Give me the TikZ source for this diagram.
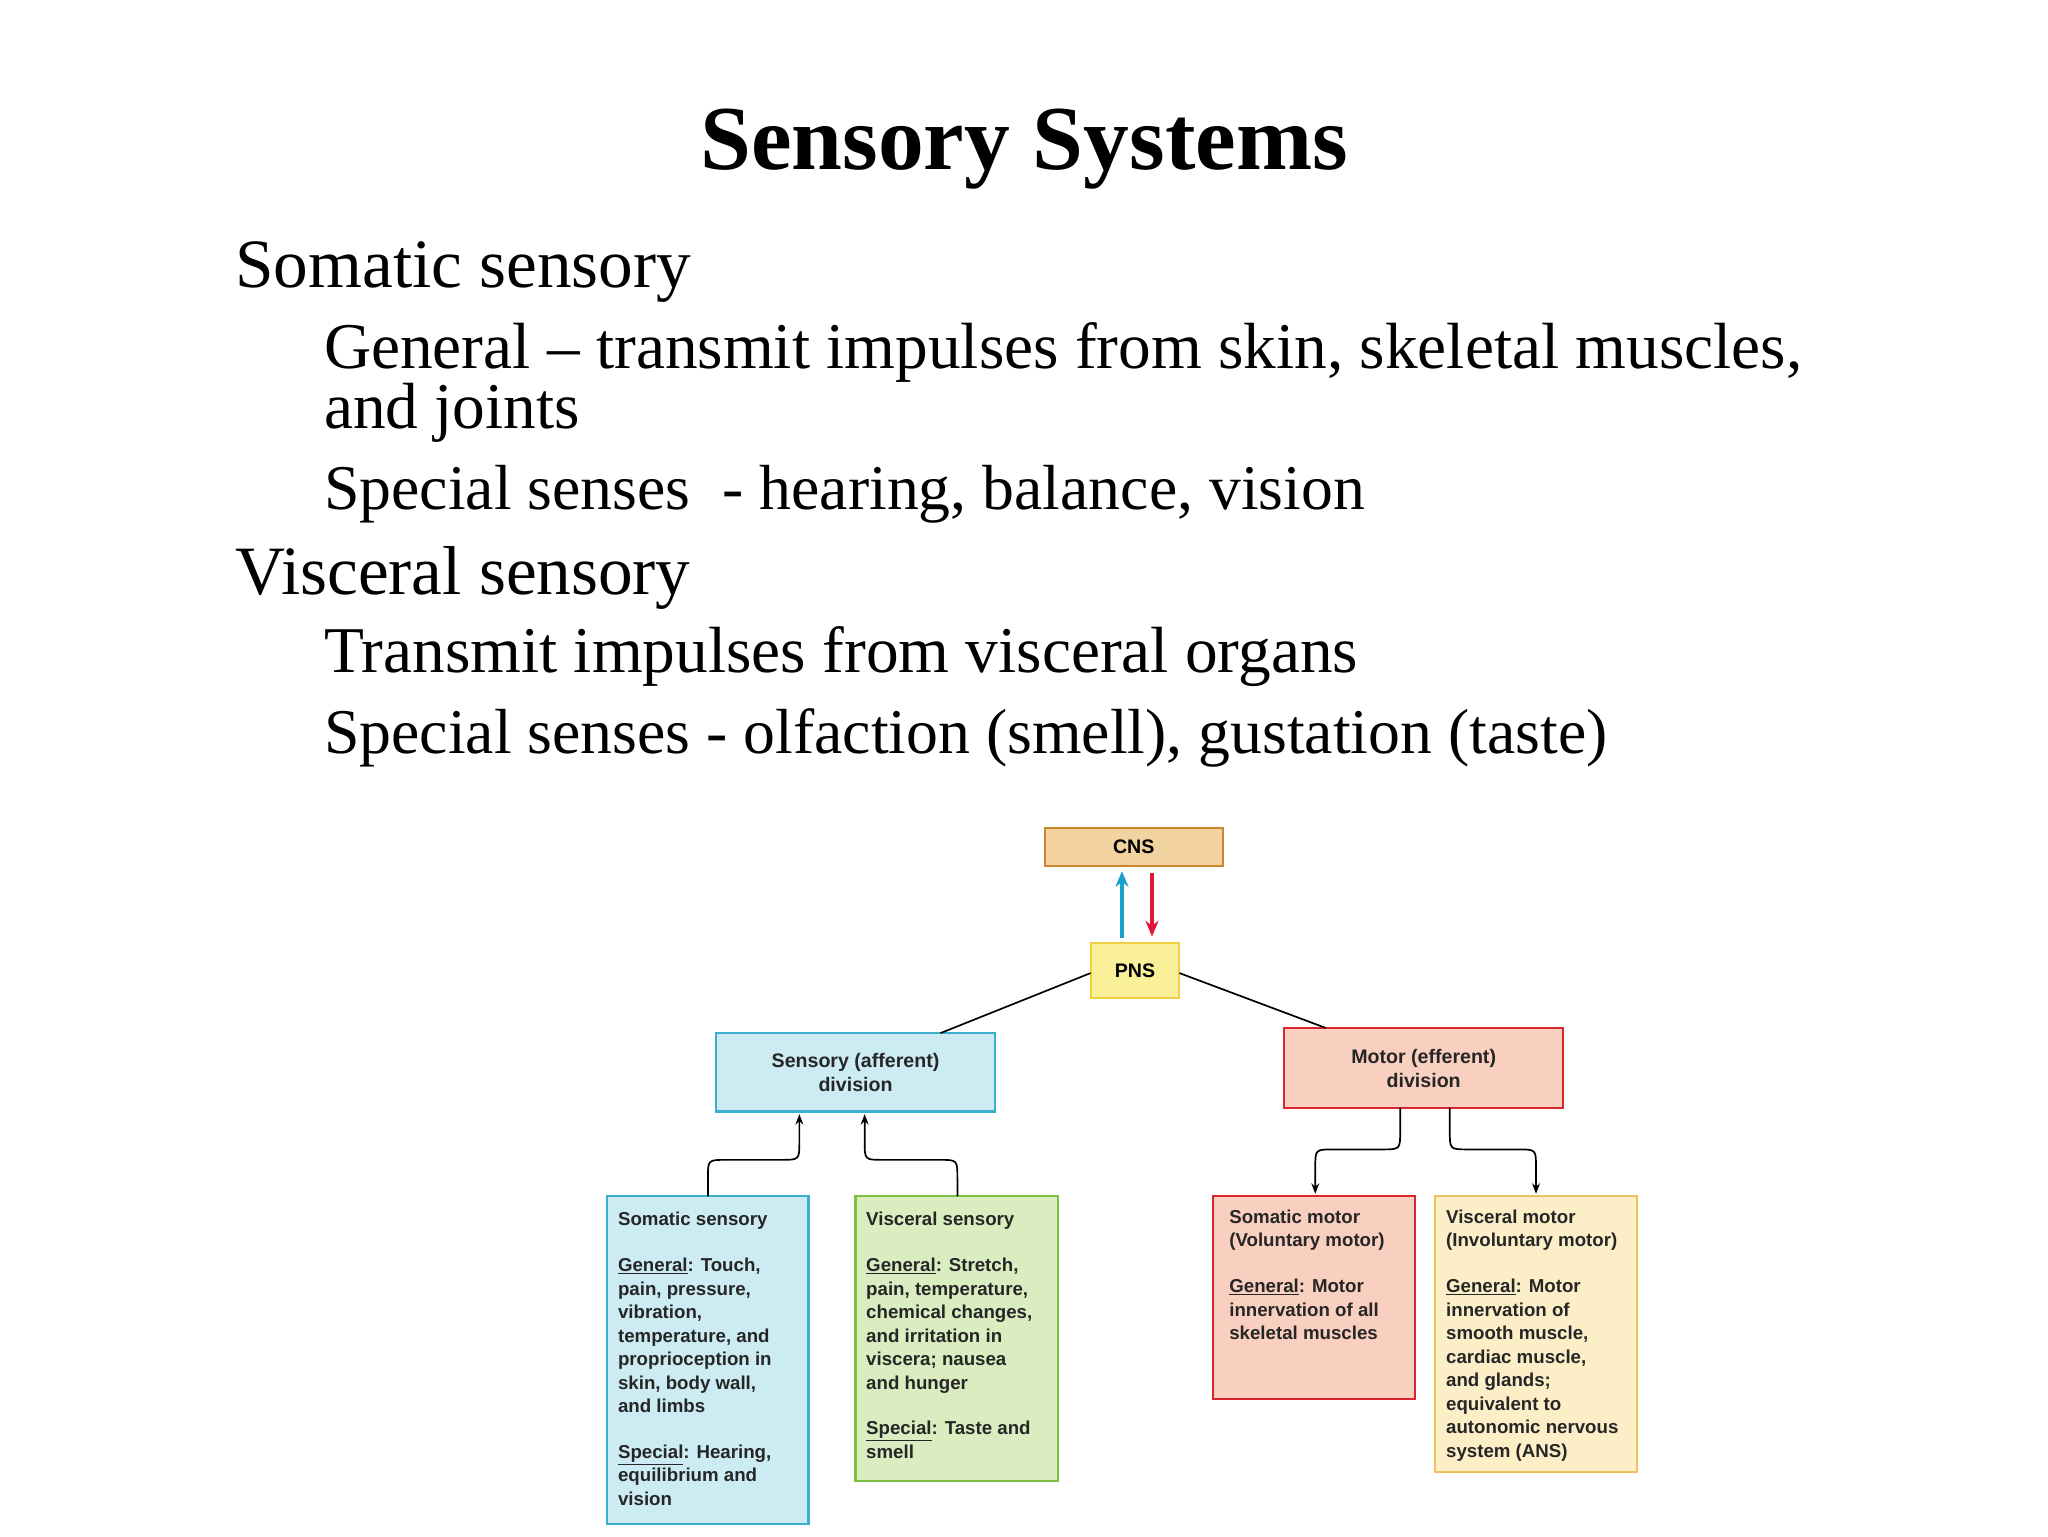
\documentclass[tikz,border=0pt]{standalone}
\usepackage{fontspec}
\setmainfont{Liberation Serif}
\newfontfamily\sansf{Liberation Sans}
\usetikzlibrary{arrows.meta}
\begin{document}
\begin{tikzpicture}[x=1pt,y=-1pt,
 body/.style={anchor=base west,inner sep=0,font=\fontsize{50}{56}\selectfont},
 big/.style={anchor=base west,inner sep=0,font=\fontsize{53}{56}\selectfont},
 box/.style={draw,line width=1.6pt,inner sep=0},
 btxt/.style={anchor=north west,inner sep=0,align=left,font=\sansf\bfseries\fontsize{14.3}{18}\selectfont,text=black!85},
 conn/.style={line width=1.3pt,-{Stealth[length=8pt,width=6pt]}},
]
\useasboundingbox (0,0) rectangle (1568,1176);
\node[anchor=base,inner sep=0,font=\bfseries\fontsize{70}{72}\selectfont] (title) at (784,130) {Sensory Systems};
\node[big] (t1) at (180,220) {Somatic sensory};
\node[body] (t2) at (248,282) {General -- transmit impulses from skin, skeletal muscles,};
\node[body] (t3) at (248,328) {and joints};
\node[body,font=\fontsize{48.8}{56}\selectfont] (t4) at (248,390) {Special senses~ - hearing, balance, vision};
\node[big] (t5) at (180,455) {Visceral sensory};
\node[body] (t6) at (248,515) {Transmit impulses from visceral organs};
\node[body,font=\fontsize{48.8}{56}\selectfont] (t7) at (248,577) {Special senses - olfaction (smell), gustation (taste)};

\definecolor{cnsf}{HTML}{F2D3A0}\definecolor{cnsd}{HTML}{C8862E}
\definecolor{pnsf}{HTML}{FBF09A}\definecolor{pnsd}{HTML}{F0D040}
\definecolor{sbf}{HTML}{CDEBF3}\definecolor{sbd}{HTML}{3BB0CC}
\definecolor{mf}{HTML}{F9CFC0}\definecolor{md}{HTML}{D8262E}
\definecolor{gf}{HTML}{D9EDC0}\definecolor{gd}{HTML}{7DC043}
\definecolor{yf}{HTML}{FCEFC8}\definecolor{yd}{HTML}{F0C060}
\definecolor{ablue}{HTML}{1AA0CC}\definecolor{ared}{HTML}{E0143C}

\draw[box,fill=cnsf,draw=cnsd] (800,634) rectangle (936,663);
\node[font=\sansf\bfseries\fontsize{15}{18}\selectfont] (cns) at (868,648.5) {CNS};
\draw[box,fill=pnsf,draw=pnsd] (835,722) rectangle (903,764);
\node[font=\sansf\bfseries\fontsize{15}{18}\selectfont] (pns) at (869,743) {PNS};
\draw[line width=3pt,ablue,-{Stealth[length=12pt,width=10pt]}] (859,718) -- (859,667);
\draw[line width=3pt,ared,-{Stealth[length=12pt,width=10pt]}] (882,668) -- (882,717);

\draw[box,fill=sbf,draw=sbd] (548,791) rectangle (762,851);
\node[align=center,font=\sansf\bfseries\fontsize{15}{18}\selectfont,text=black!85] (sens) at (655,821) {Sensory (afferent)\\division};
\draw[box,fill=mf,draw=md] (983,787) rectangle (1197,848);
\node[align=center,font=\sansf\bfseries\fontsize{15}{18}\selectfont,text=black!85] (mot) at (1090,818) {Motor (efferent)\\division};
\coordinate (pl) at (835,745); \coordinate (pr) at (903,745);
\coordinate (sl) at (720,791); \coordinate (mr) at (1015,787);
\draw[line width=1.3pt] (pl) -- (sl);
\draw[line width=1.3pt] (pr) -- (mr);

\draw[box,fill=sbf,draw=sbd] (465,916) rectangle (619,1167);
\draw[box,fill=gf,draw=gd] (655,916) rectangle (810,1134);
\draw[box,fill=mf,draw=md] (929,916) rectangle (1083,1071);
\draw[box,fill=yf,draw=yd] (1099,916) rectangle (1253,1127);

\node[btxt] (ss) at (473,928) {Somatic sensory\\[17pt]\underline{General}: Touch,\\pain, pressure,\\vibration,\\temperature, and\\proprioception in\\skin, body wall,\\and limbs\\[17pt]\underline{Special}: Hearing,\\equilibrium and\\vision};
\node[btxt] (vs) at (663,928) {Visceral sensory\\[17pt]\underline{General}: Stretch,\\pain, temperature,\\chemical changes,\\and irritation in\\viscera; nausea\\and hunger\\[17pt]\underline{Special}: Taste and\\smell};
\node[btxt] (sm) at (941,926) {Somatic motor\\(Voluntary motor)\\[17pt]\underline{General}: Motor\\innervation of all\\skeletal muscles};
\node[btxt] (vm) at (1107,926) {Visceral motor\\(Involuntary motor)\\[17pt]\underline{General}: Motor\\innervation of\\smooth muscle,\\cardiac muscle,\\and glands;\\equivalent to\\autonomic nervous\\system (ANS)};

\coordinate (a1) at (542,916); \coordinate (b1) at (612,853);
\coordinate (a2) at (733,916); \coordinate (b2) at (662,853);
\coordinate (c1) at (1072,848); \coordinate (d1) at (1007,914);
\coordinate (c2) at (1110,848); \coordinate (d2) at (1176,914);
\draw[conn] (a1) -- (542,902) .. controls (542,888) .. (556,888) -- (598,888) .. controls (612,888) .. (612,874) -- (b1);
\draw[conn] (a2) -- (733,902) .. controls (733,888) .. (719,888) -- (676,888) .. controls (662,888) .. (662,874) -- (b2);
\draw[conn] (c1) -- (1072,866) .. controls (1072,880) .. (1058,880) -- (1021,880) .. controls (1007,880) .. (1007,894) -- (d1);
\draw[conn] (c2) -- (1110,866) .. controls (1110,880) .. (1124,880) -- (1162,880) .. controls (1176,880) .. (1176,894) -- (d2);
\end{tikzpicture}
\end{document}
